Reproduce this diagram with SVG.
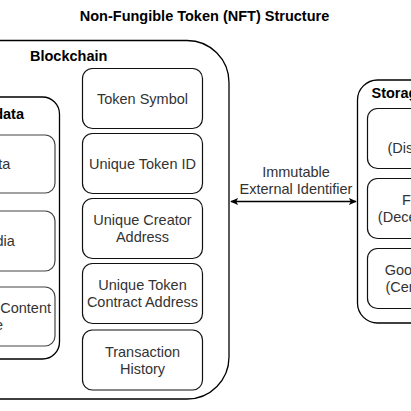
<svg xmlns="http://www.w3.org/2000/svg" width="411" height="411" viewBox="0 0 411 411">
<defs>
<style>
.cont{fill:#fff;stroke:#000;stroke-width:1.3}
.box{fill:#fff;stroke:#111;stroke-width:1.2}
.mbox{fill:#fff;stroke:#444;stroke-width:1.2}
.t{font-family:"Liberation Sans",Arial,sans-serif;font-size:14.5px;fill:#333;text-anchor:middle}
.h{font-family:"Liberation Sans",Arial,sans-serif;font-size:14.5px;font-weight:bold;fill:#000}
.edge{stroke:#000;stroke-width:1.3;fill:none}
</style>
<marker id="ah" viewBox="0 0 10 10" refX="9" refY="5" markerWidth="8" markerHeight="8" markerUnits="userSpaceOnUse" orient="auto-start-reverse">
<path d="M0,0.5 L10,5 L0,9.5 L2.5,5 Z" fill="#000"/>
</marker>
</defs>
<rect width="411" height="411" fill="#fff"/>
<text class="h" x="204.5" y="21" text-anchor="middle">Non-Fungible Token (NFT) Structure</text>

<g id="blockchain">
<rect class="cont" x="-60" y="40.5" width="289" height="358.5" rx="42" ry="42"/>
<text class="h" x="30" y="61">Blockchain</text>
</g>

<g id="metadata">
<rect class="cont" x="-80" y="97" width="139.5" height="262" rx="17" ry="17"/>
<text class="h" x="24" y="118.5" text-anchor="end">Metadata</text>
</g>
<g id="meta-data">
<rect class="mbox" x="-65" y="135" width="120" height="58" rx="10" ry="10"/>
<text class="t" x="-5" y="169">Data</text>
</g>
<g id="meta-media">
<rect class="mbox" x="-65" y="211" width="120" height="60" rx="10" ry="10"/>
<text class="t" x="-5" y="246">Media</text>
</g>
<g id="meta-content">
<rect class="mbox" x="-65" y="287" width="120" height="59" rx="10" ry="10"/>
<text class="t" x="51" y="312.5" style="text-anchor:end">Hash of Content</text>
<text class="t" x="3" y="330" style="text-anchor:end">File</text>
</g>

<g id="token-symbol">
<rect class="box" x="82.5" y="68.5" width="120" height="60" rx="10" ry="10"/>
<text class="t" x="142.5" y="103.5">Token Symbol</text>
</g>
<g id="token-id">
<rect class="box" x="82.5" y="133.5" width="120" height="60" rx="10" ry="10"/>
<text class="t" x="142.5" y="168.5">Unique Token ID</text>
</g>
<g id="creator">
<rect class="box" x="82.5" y="198.5" width="120" height="60" rx="10" ry="10"/>
<text class="t" x="142.5" y="224.5">Unique Creator</text>
<text class="t" x="142.5" y="242">Address</text>
</g>
<g id="contract">
<rect class="box" x="82.5" y="263.5" width="120" height="60" rx="10" ry="10"/>
<text class="t" x="142.5" y="289.5">Unique Token</text>
<text class="t" x="142.5" y="307">Contract Address</text>
</g>
<g id="history">
<rect class="box" x="82.5" y="330" width="120" height="60" rx="10" ry="10"/>
<text class="t" x="142.5" y="356.5">Transaction</text>
<text class="t" x="142.5" y="374">History</text>
</g>

<g id="storage">
<rect class="cont" x="357.5" y="80" width="170" height="243" rx="20" ry="20"/>
<text class="h" x="371.5" y="98">Storage</text>
</g>
<g id="ipfs">
<rect class="box" x="367.5" y="108.5" width="120" height="60" rx="10" ry="10"/>
<text class="t" x="427" y="134.5">IPFS</text>
<text class="t" x="427" y="152.5">(Distributed)</text>
</g>
<g id="filecoin">
<rect class="box" x="367.5" y="178.5" width="120" height="60" rx="10" ry="10"/>
<text class="t" x="427" y="204.5">Filecoin</text>
<text class="t" x="427" y="222">(Decentralized)</text>
</g>
<g id="gdrive">
<rect class="box" x="367.5" y="248.5" width="120" height="60" rx="10" ry="10"/>
<text class="t" x="427" y="274.5">Google Drive</text>
<text class="t" x="427" y="292">(Centralized)</text>
</g>

<g id="connectors">
<line class="edge" x1="231" y1="201.5" x2="356" y2="201.5" marker-start="url(#ah)" marker-end="url(#ah)"/>
<text class="t" x="296" y="177">Immutable</text>
<text class="t" x="296" y="194">External Identifier</text>
</g>
</svg>
